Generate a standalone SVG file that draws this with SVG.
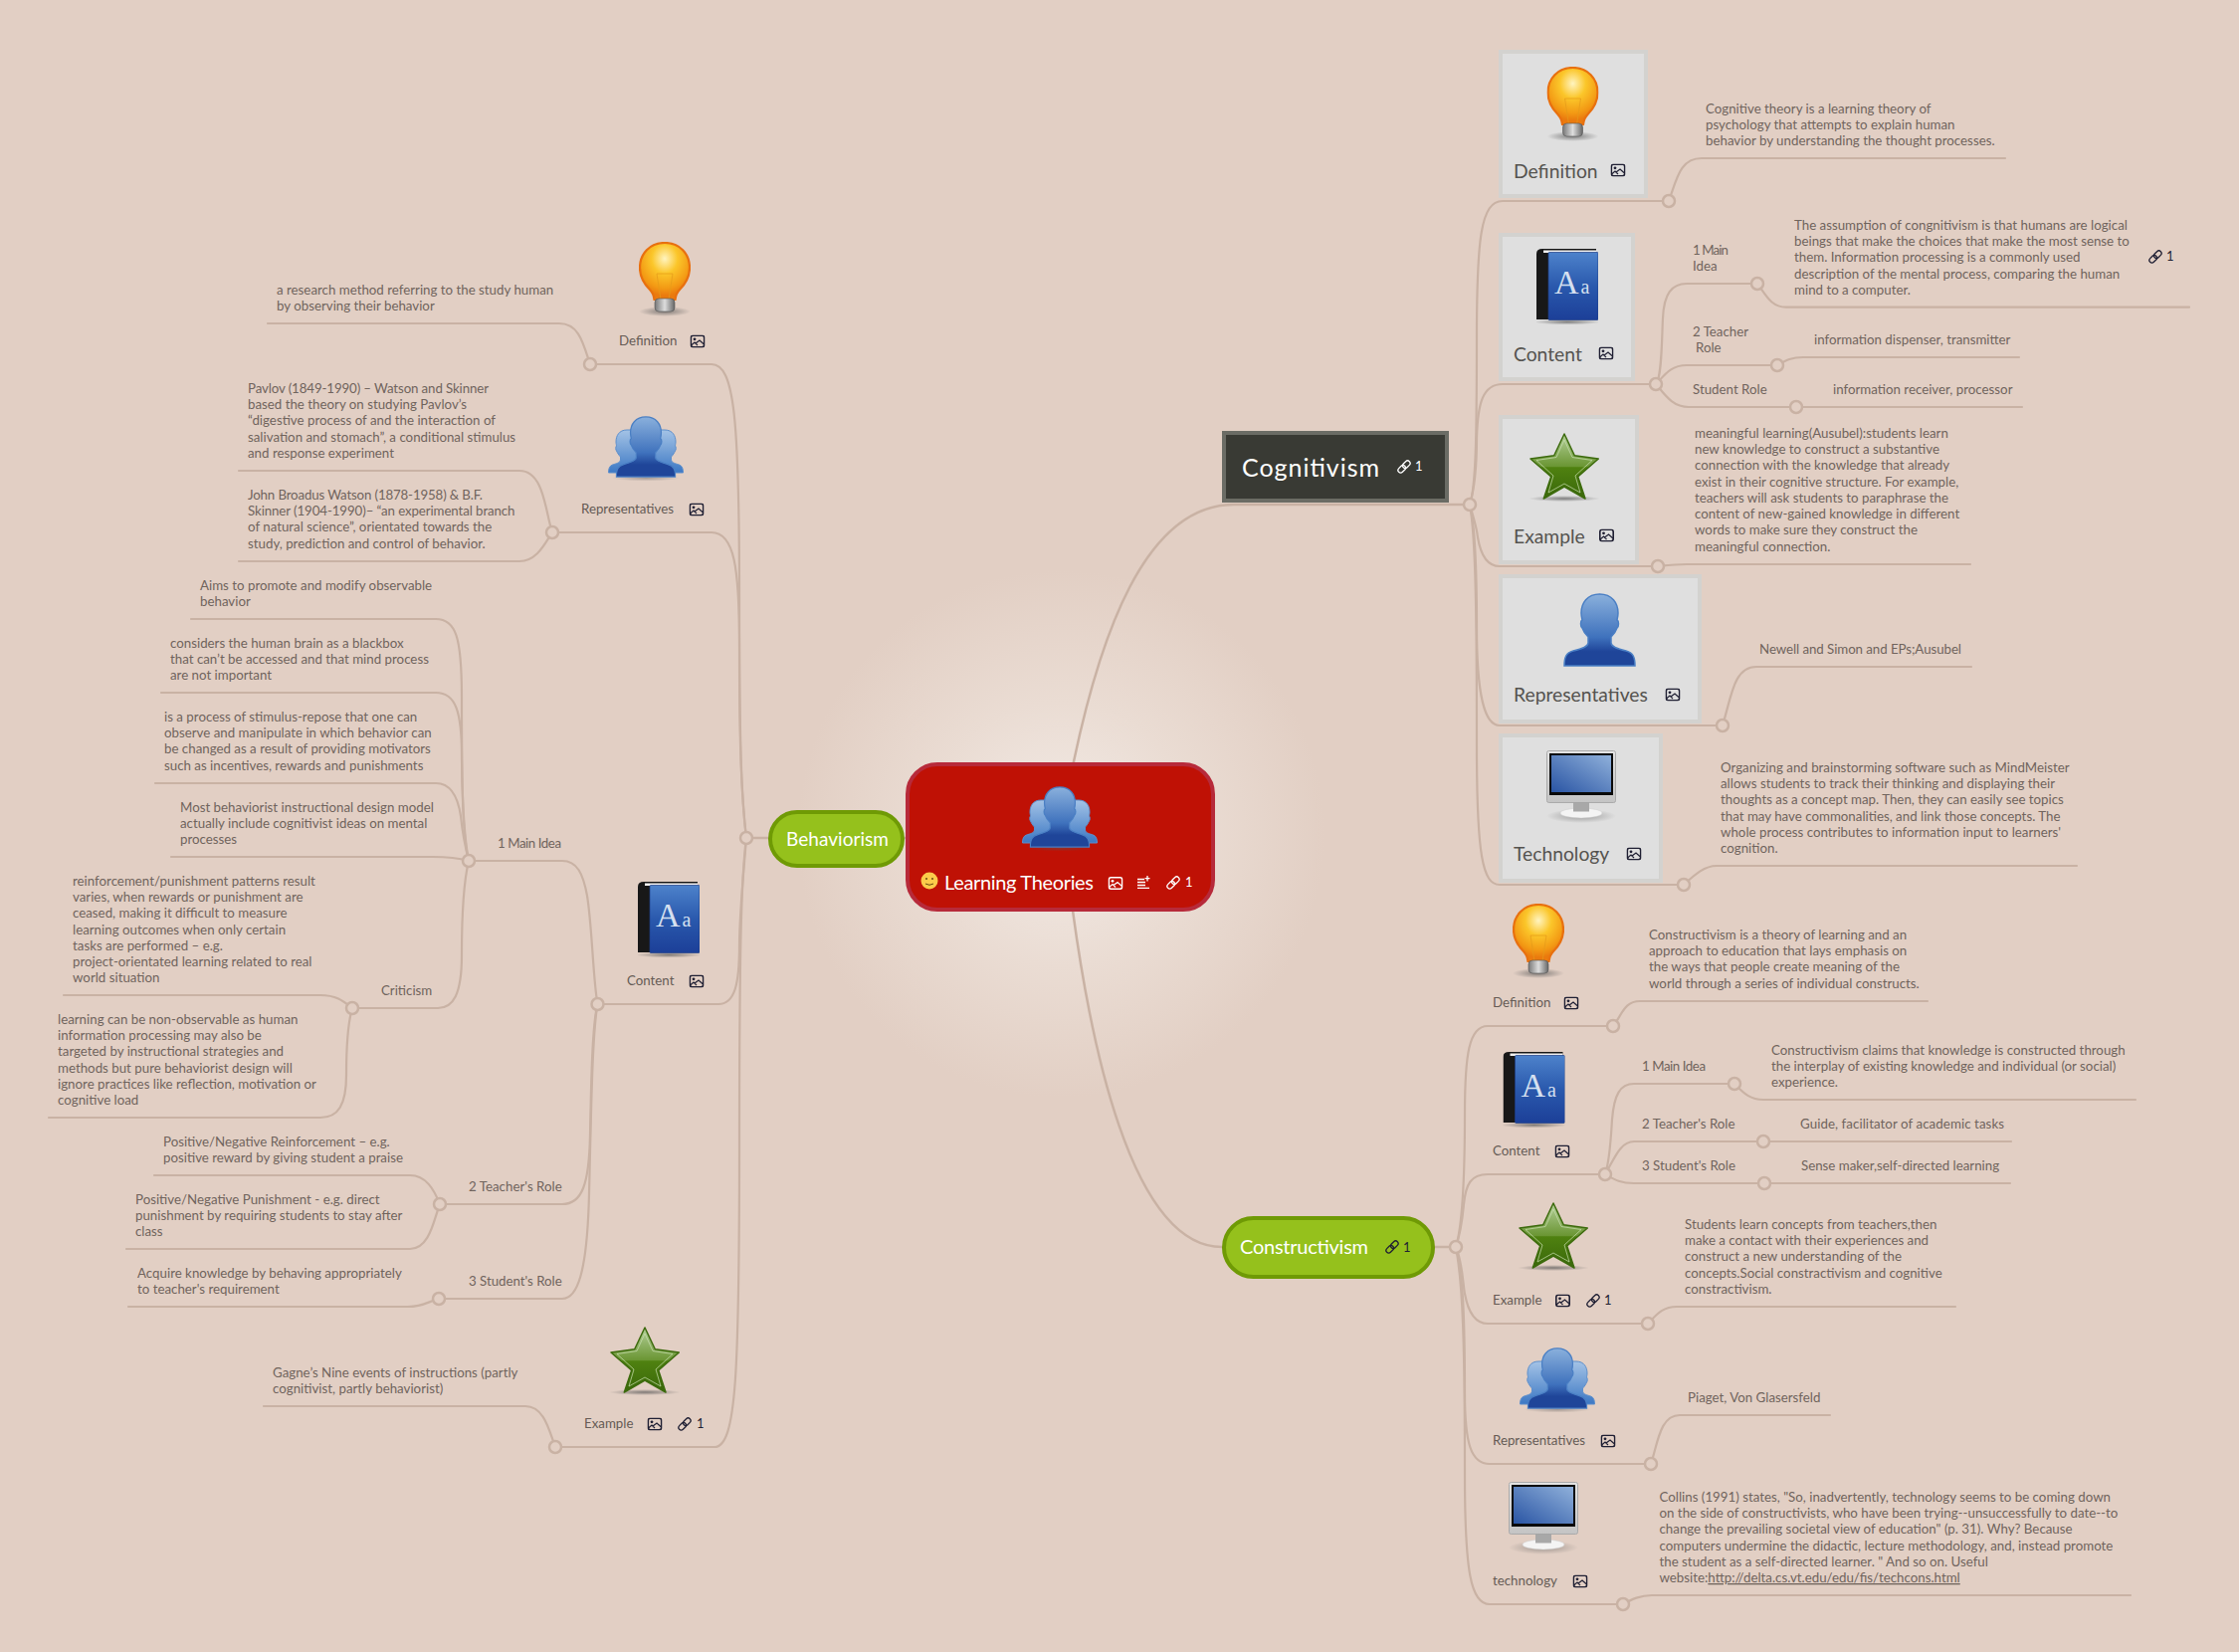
<svg xmlns="http://www.w3.org/2000/svg" xmlns:xlink="http://www.w3.org/1999/xlink" width="2250" height="1660" viewBox="0 0 2250 1660">
<style>
.t{font:13.3px Lato,"Liberation Sans",sans-serif;fill:#70645d;transform:translateY(1px)}
.l{font:13.3px Lato,"Liberation Sans",sans-serif;fill:#655b55;transform:translateY(1px)}
.c{font:19.3px Lato,"Liberation Sans",sans-serif;fill:#55534f;transform:translateY(1.5px)}
.n{font:13px Lato,"Liberation Sans",sans-serif;fill:#1f1f33}
.w{fill:#fff}
.b{transform:translateY(1px)}
.card{fill:#dfdfdf;stroke:#d3d2cf;stroke-width:4}
.ln{fill:none;stroke:#c9b2a4;stroke-width:2.2;stroke-linecap:round}
.main{stroke-width:2.5}
.hub{fill:#e2cfc4;stroke:#c9b2a4;stroke-width:2.5}
.dk{color:#1f1f33}
.wh{color:#fff}
</style>
<defs>
<radialGradient id="glow"><stop offset="0" stop-color="#f3ebe6"/><stop offset=".5" stop-color="#eadcd3"/><stop offset="1" stop-color="#e2cfc4"/></radialGradient>
<radialGradient id="sh"><stop offset="0" stop-color="#555" stop-opacity=".7"/><stop offset="1" stop-color="#555" stop-opacity="0"/></radialGradient>
<radialGradient id="gl" cx=".5" cy=".28" r=".65"><stop offset="0" stop-color="#fff4c0"/><stop offset=".4" stop-color="#fbc62a"/><stop offset=".8" stop-color="#f39a14"/><stop offset="1" stop-color="#ea7a0e"/></radialGradient>
<linearGradient id="base" x1="0" x2="1" y1="0" y2="0"><stop offset="0" stop-color="#777"/><stop offset=".5" stop-color="#ddd"/><stop offset="1" stop-color="#666"/></linearGradient>
<linearGradient id="cov" x1="0" x2="0" y1="0" y2="1"><stop offset="0" stop-color="#4d82cb"/><stop offset=".5" stop-color="#2a59ad"/><stop offset="1" stop-color="#1c3f98"/></linearGradient>
<linearGradient id="per" x1="0" x2="0" y1="0" y2="1"><stop offset="0" stop-color="#8ab0dc"/><stop offset=".6" stop-color="#3f72bd"/><stop offset=".8" stop-color="#1f4599"/><stop offset="1" stop-color="#1f4599"/></linearGradient>
<linearGradient id="per2" x1="0" x2="0" y1="0" y2="1"><stop offset="0" stop-color="#a4c3e6"/><stop offset="1" stop-color="#3c78c4"/></linearGradient>
<linearGradient id="st" x1="0" x2="0" y1="0" y2="1"><stop offset="0" stop-color="#b4d09a"/><stop offset=".5" stop-color="#6b9634"/><stop offset=".52" stop-color="#4f8110"/><stop offset="1" stop-color="#3a680a"/></linearGradient>
<linearGradient id="scr" x1="0" x2="1" y1="1" y2="0"><stop offset="0" stop-color="#2a55a4"/><stop offset="1" stop-color="#8fb0da"/></linearGradient>
<linearGradient id="bez" x1="0" x2="0" y1="0" y2="1"><stop offset="0" stop-color="#e4e4e4"/><stop offset="1" stop-color="#c4c4c4"/></linearGradient>

<symbol id="bulb" viewBox="0 0 52 75">
<ellipse cx="26" cy="70" rx="26" ry="5" fill="url(#sh)"/>
<path d="M26 1C11 1 1 12 1 26c0 10 5 17 10 22 3 3 4 6 4.500 10h21c.5-4 1.500-7 4.500-10 5-5 10-12 10-22C51 12 41 1 26 1Z" fill="url(#gl)" stroke="#e8700f" stroke-width="2.200"/>
<path d="M18 32l4 26M34 32l-4 26M18 32h16" fill="none" stroke="#e49a1a" stroke-width="1" opacity=".7"/>
<rect x="16" y="57" width="20" height="13" rx="4" fill="url(#base)" stroke="#555" stroke-width=".6"/>
</symbol>

<symbol id="book" viewBox="0 0 62 78">
<ellipse cx="31" cy="74.500" rx="34" ry="3" fill="url(#sh)"/>
<path d="M0 6Q0 1 6 1H60V72H0Z" fill="#181818"/>
<rect x="7" y="2.500" width="53" height="2.500" fill="#f2f2f2"/>
<rect x="12" y="4.500" width="50" height="68" rx="1" fill="url(#cov)" stroke="#1d3c85" stroke-width=".7"/>
<text x="18" y="46" font-family="'Liberation Serif',serif" font-size="34" fill="#d6e0f0">A<tspan font-size="20" dx="2">a</tspan></text>
</symbol>

<symbol id="person" viewBox="0 0 73 74">
<path d="M36.500 1C24 1 18 10 18 20c0 2 .5 5 1 7-2 1-2 6 0 8 1 3 3 6 6 9v6c0 4-7 6-15 8C3 60 1 64 1 73H72c0-9-2-13-9-15-8-2-15-4-15-8v-6c3-3 5-6 6-9 2-2 2-7 0-8 .5-2 1-5 1-7C55 10 49 1 36.500 1Z" fill="url(#per)" stroke="#4a7fc4" stroke-width="1.500"/>
</symbol>

<symbol id="people" viewBox="0 0 76 66">
<ellipse cx="38" cy="62.500" rx="34" ry="3" fill="url(#sh)" opacity=".6"/>
<path d="M19 14c-8 0-11 6-11 12 0 2 .5 3 .5 4-1 1-1 4 0 5 1 2 2 4 4 6v3c0 3-5 4-8 5-3 1-4 4-4 8H38V14Z" fill="url(#per2)" stroke="#5d8fcc"/>
<path d="M57 14c8 0 11 6 11 12 0 2-.5 3-.5 4 1 1 1 4 0 5-1 2-2 4-4 6v3c0 3 5 4 8 5 3 1 4 4 4 8H38V14Z" fill="url(#per2)" stroke="#5d8fcc"/>
<use href="#person" x="7.500" y="0" width="61" height="62" preserveAspectRatio="none"/>
</symbol>

<symbol id="star" viewBox="0 0 70 70">
<ellipse cx="35" cy="66" rx="36" ry="3" fill="url(#sh)"/>
<path d="M35 1 45.300 22.700 69.300 26 48.700 44 56 66 35 54 14.300 66 21.700 44 1 26 24.700 22.700Z" fill="url(#st)" stroke="#3c6a0d" stroke-width="1.500" stroke-linejoin="round"/>
<path d="M35 7 43 24.500 63 27.500 46 43 51 60 35 51 19 60 24 43 7 27.500 27 24.500Z" fill="none" stroke="#c9deb0" stroke-width="1" opacity=".7"/>
</symbol>

<symbol id="mon" viewBox="0 0 70 73">
<ellipse cx="35" cy="66" rx="35" ry="7" fill="url(#sh)" opacity=".7"/>
<rect x=".5" y=".5" width="69" height="52" rx="2" fill="url(#bez)" stroke="#aaa"/>
<rect x="3" y="3" width="64" height="42" fill="#0a0a0a"/>
<rect x="5" y="5" width="60" height="37" fill="url(#scr)"/>
<rect x="27" y="52.500" width="16" height="9" fill="#999"/>
<ellipse cx="35" cy="63" rx="21" ry="5" fill="#f4f4f4" stroke="#ccc" stroke-width=".5"/>
<rect x="27" y="52.500" width="16" height="9" fill="#a8a8a8"/>
</symbol>

<symbol id="img" viewBox="0 0 15 13">
<rect x=".8" y=".8" width="13.400" height="11.400" rx="2.200" fill="none" stroke="currentColor" stroke-width="1.600"/>
<circle cx="4.500" cy="4.300" r="1.400" fill="currentColor"/>
<path d="M1 10.500 4.500 7.500 7.500 10.500M5.500 8.500 9.500 5.500 14 9.500" fill="none" stroke="currentColor" stroke-width="1.200"/>
</symbol>

<symbol id="link" viewBox="0 0 14 14">
<g fill="none" stroke="currentColor" stroke-width="1.300" transform="rotate(-45 7 7)">
<rect x="-.5" y="4.400" width="8.500" height="5.200" rx="2.600"/>
<rect x="6" y="4.400" width="8.500" height="5.200" rx="2.600"/>
</g>
</symbol>

<symbol id="list" viewBox="0 0 13 13">
<path d="M0 3.500H7M0 6.500H8M0 9.500H8M0 12.300H12M10 0V5.500M7.500 2.700H12.500" fill="none" stroke="currentColor" stroke-width="1.300"/>
</symbol>
</defs>

<rect width="2250" height="1660" fill="#e2cfc4"/>
<ellipse cx="1066" cy="838" rx="265" ry="265" fill="url(#glow)"/>

<g id="connectors">
<path class="ln main" d="M1078,770C1105,640 1150,507 1240,507L1477,507"/>
<path class="ln main" d="M1078,915C1095,1040 1135,1253 1228,1253L1463,1253"/>
<path class="ln main" d="M750,842L912,842"/>
<path class="ln" d="M750,842C745,800 743,750 743,600C743,420 738,366 715,366L593,366"/>
<path class="ln" d="M750,842C745,800 743,750 743,650C743,570 738,535 715,535L555,535"/>
<path class="ln" d="M750,842C747,880 743,920 743,950C743,990 738,1009 722,1009L600,1009"/>
<path class="ln" d="M750,842C745,880 743,950 743,1150C743,1380 740,1454 718,1454L558,1454"/>
<path class="ln" d="M593,366C586,345 582,325 562,325L269,325"/>
<path class="ln" d="M555,535C548,515 547,473 522,473L240,473"/>
<path class="ln" d="M555,535C548,545 540,564 522,564L240,564"/>
<path class="ln" d="M600.500,1009C596,985 595,930 590,900C586,878 580,865 565,865L471,865"/>
<path class="ln" d="M600.500,1009C595,1030 594,1090 593,1140C592,1190 585,1210 565,1210L442,1210"/>
<path class="ln" d="M600.500,1009C595,1040 594,1120 592,1200C590,1280 580,1305 565,1305L441,1305"/>
<path class="ln" d="M471,865C465,840 464,800 464,700C464,640 458,622 438,622L192,622"/>
<path class="ln" d="M471,865C466,840 464,790 464,760C464,715 458,696 438,696L162,696"/>
<path class="ln" d="M471,865C466,845 464,830 463,820C460,800 452,787 438,787L156,787"/>
<path class="ln" d="M471,865C460,862 450,861 435,861L172,861"/>
<path class="ln" d="M471,865C465,890 464,930 464,960C464,1000 455,1013 440,1013L354,1013"/>
<path class="ln" d="M354,1013C345,1006 338,1000 322,1000L64,1000"/>
<path class="ln" d="M354,1013C349,1030 348,1050 348,1080C348,1110 340,1123 322,1123L49,1123"/>
<path class="ln" d="M442,1210C436,1195 428,1181 412,1181L155,1181"/>
<path class="ln" d="M442,1210C436,1225 432,1255 412,1255L127,1255"/>
<path class="ln" d="M441,1305C430,1308 425,1313 410,1313L129,1313"/>
<path class="ln" d="M558,1454C552,1438 547,1413 528,1413L265,1413"/>
<path class="ln" d="M1477,507C1483,490 1484,440 1484,340C1484,240 1488,202 1510,202L1677,202"/>
<path class="ln" d="M1477,507C1482,490 1484,470 1484,440C1485,405 1490,386 1510,386L1664,386"/>
<path class="ln" d="M1477,507C1482,525 1484,530 1485,540C1488,558 1495,569 1507,569L1666,569"/>
<path class="ln" d="M1477,507C1483,530 1484,580 1484,630C1484,700 1492,729 1507,729L1731,729"/>
<path class="ln" d="M1477,507C1483,540 1484,620 1484,750C1484,860 1490,889 1507,889L1692,889"/>
<path class="ln" d="M1677,202C1685,180 1688,159 1710,159L2015,159"/>
<path class="ln" d="M1664,386C1670,380 1670,340 1671,320C1672,295 1680,285 1695,285L1766,285"/>
<path class="ln" d="M1766,285C1775,297 1780,308.700 1795,308.700L2200,308.700"/>
<path class="ln" d="M1664,386C1672,378 1678,367 1695,367L1786,367"/>
<path class="ln" d="M1786,367C1795,362 1800,359 1812,359L2029,359"/>
<path class="ln" d="M1664,386C1672,395 1680,409 1697,409L2032,409"/>
<path class="ln" d="M1666,569C1675,568 1682,567 1695,567L1980,567"/>
<path class="ln" d="M1731,729C1740,700 1742,670 1765,670L1981,670"/>
<path class="ln" d="M1692,889C1702,880 1712,870 1725,870L2087,870"/>
<path class="ln" d="M1463,1253C1470,1230 1472,1180 1472,1120C1472,1060 1476,1031 1495,1031L1621,1031"/>
<path class="ln" d="M1463,1253C1469,1235 1470,1220 1471,1210C1473,1190 1478,1180 1495,1180L1613,1180"/>
<path class="ln" d="M1463,1253C1470,1270 1470,1290 1472,1300C1476,1322 1484,1330 1495,1330L1656,1330"/>
<path class="ln" d="M1463,1253C1470,1280 1472,1320 1472,1400C1472,1450 1478,1471 1497,1471L1659,1471"/>
<path class="ln" d="M1463,1253C1470,1290 1472,1350 1472,1480C1472,1580 1478,1612 1497,1612L1631,1612"/>
<path class="ln" d="M1621,1031C1630,1020 1632,1006 1648,1006L1937,1006"/>
<path class="ln" d="M1613,1180C1618,1165 1619,1140 1620,1125C1622,1100 1628,1089 1642,1089L1743,1089"/>
<path class="ln" d="M1743,1089C1752,1098 1758,1105 1772,1105L2146,1105"/>
<path class="ln" d="M1613,1180C1622,1165 1628,1147 1642,1147L2021,1147"/>
<path class="ln" d="M1613,1180C1622,1185 1628,1189 1642,1189L2020,1189"/>
<path class="ln" d="M1656,1330C1664,1322 1670,1313 1685,1313L1965,1313"/>
<path class="ln" d="M1659,1471C1666,1450 1668,1422 1688,1422L1839,1422"/>
<path class="ln" d="M1631,1612C1640,1607 1648,1603 1660,1603L2141,1603"/>
<g class="hub">
<circle cx="750" cy="842" r="6"/><circle cx="593" cy="366" r="6"/><circle cx="555" cy="535" r="6"/><circle cx="600.500" cy="1009" r="6"/><circle cx="558" cy="1454" r="6"/><circle cx="471" cy="865" r="6"/><circle cx="354" cy="1013" r="6"/><circle cx="442" cy="1210" r="6"/><circle cx="441" cy="1305" r="6"/>
<circle cx="1477" cy="507" r="6"/><circle cx="1677" cy="202" r="6"/><circle cx="1664" cy="386" r="6"/><circle cx="1666" cy="569" r="6"/><circle cx="1731" cy="729" r="6"/><circle cx="1692" cy="889" r="6"/><circle cx="1766" cy="285" r="6"/><circle cx="1786" cy="367" r="6"/><circle cx="1805" cy="409" r="6"/>
<circle cx="1463" cy="1253" r="6"/><circle cx="1621" cy="1031" r="6"/><circle cx="1613" cy="1180" r="6"/><circle cx="1656" cy="1330" r="6"/><circle cx="1659" cy="1471" r="6"/><circle cx="1631" cy="1612" r="6"/><circle cx="1743" cy="1089" r="6"/><circle cx="1772" cy="1147" r="6"/><circle cx="1773" cy="1189" r="6"/>
</g>
</g>

<g id="root">
<rect x="912" y="768" width="307" height="146" rx="30" fill="#bf1105" stroke="#b72a3a" stroke-width="4"/>
<use href="#people" x="1027" y="790" width="76" height="66"/>
<circle cx="934" cy="885" r="8.500" fill="#fbcb4a"/><circle cx="931" cy="883" r="1" fill="#6b4a10"/><circle cx="937" cy="883" r="1" fill="#6b4a10"/><path d="M930 888q4 2.500 8 0" fill="none" stroke="#6b4a10" stroke-width="1"/>
<text class="w b" x="949" y="893" font-family="Lato,'Liberation Sans',sans-serif" font-size="20" textLength="150">Learning Theories</text>
<use class="wh" href="#img" x="1113.500" y="881" width="15" height="13"/>
<use class="wh" href="#list" x="1143" y="880" width="13" height="13"/>
<use class="wh" href="#link" x="1172" y="880" width="14" height="14"/>
<text class="n w" x="1191" y="891">1</text>
</g>

<g id="behaviorism">
<rect x="774" y="816" width="133" height="54" rx="27" fill="#95c11c" stroke="#6f9a05" stroke-width="4"/>
<text class="w b" x="790" y="849" font-family="Lato,'Liberation Sans',sans-serif" font-size="19" textLength="103">Behaviorism</text>
</g>

<g id="cognitivism">
<rect x="1230" y="435" width="224" height="68" fill="#393a34" stroke="#6b6c65" stroke-width="4"/>
<text class="w b" x="1248" y="478" font-family="Lato,'Liberation Sans',sans-serif" font-size="25" textLength="138">Cognitivism</text>
<use class="wh" href="#link" x="1404" y="462" width="14" height="14"/>
<text class="n w" x="1422" y="473">1</text>
</g>

<g id="constructivism">
<rect x="1230" y="1224" width="210" height="59" rx="29.500" fill="#95c11c" stroke="#6f9a05" stroke-width="4"/>
<text class="w b" x="1246" y="1259" font-family="Lato,'Liberation Sans',sans-serif" font-size="20" textLength="129">Constructivism</text>
<use class="dk" href="#link" x="1392" y="1246" width="14" height="14"/>
<text class="n" x="1410" y="1258">1</text>
</g>

<g id="cog-definition">
<rect class="card" x="1508" y="52" width="146" height="145"/>
<use href="#bulb" x="1554.500" y="67" width="52" height="75"/>
<text class="c" x="1521" y="177">Definition</text>
<use class="dk" href="#img" x="1618.500" y="164.500" width="15" height="13"/>
</g>
<g id="cog-definition-text">
<text class="t" x="1714" y="113">Cognitive theory is a learning theory of</text>
<text class="t" x="1714" y="129">psychology that attempts to explain human</text>
<text class="t" x="1714" y="145">behavior by understanding the thought processes.</text>
</g>
<g id="cog-content">
<rect class="card" x="1508" y="236" width="133" height="145"/>
<use href="#book" x="1544" y="249" width="62" height="78"/>
<text class="c" x="1521" y="361">Content</text>
<use class="dk" href="#img" x="1606.500" y="348.500" width="15" height="13"/>
</g>
<g id="cog-main-idea">
<text class="t" x="1701" y="255" textLength="36">1 Main</text>
<text class="t" x="1701" y="271">Idea</text>
</g>
<g id="cog-main-idea-text">
<text class="t" x="1803" y="230">The assumption of congnitivism is that humans are logical</text>
<text class="t" x="1803" y="246">beings that make the choices that make the most sense to</text>
<text class="t" x="1803" y="262">them. Information processing is a commonly used</text>
<text class="t" x="1803" y="279">description of the mental process, comparing the human</text>
<text class="t" x="1803" y="295">mind to a computer.</text>
<use class="dk" href="#link" x="2159" y="251" width="14" height="14"/>
<text class="n" x="2177" y="262">1</text>
</g>
<g id="cog-teacher">
<text class="t" x="1701" y="337" textLength="56">2 Teacher</text>
<text class="t" x="1704" y="353">Role</text>
<text class="t" x="1823" y="345">information dispenser, transmitter</text>
</g>
<g id="cog-student">
<text class="t" x="1701" y="395">Student Role</text>
<text class="t" x="1842" y="395">information receiver, processor</text>
</g>
<g id="cog-example">
<rect class="card" x="1508" y="419" width="137" height="146"/>
<use href="#star" x="1537" y="435" width="70" height="70"/>
<text class="c" x="1521" y="544">Example</text>
<use class="dk" href="#img" x="1607" y="531.500" width="15" height="13"/>
</g>
<g id="cog-example-text">
<text class="t" x="1703" y="439">meaningful learning(Ausubel):students learn</text>
<text class="t" x="1703" y="455">new knowledge to construct a substantive</text>
<text class="t" x="1703" y="471">connection with the knowledge that already</text>
<text class="t" x="1703" y="488">exist in their cognitive structure. For example,</text>
<text class="t" x="1703" y="504">teachers will ask students to paraphrase the</text>
<text class="t" x="1703" y="520">content of new-gained knowledge in different</text>
<text class="t" x="1703" y="536">words to make sure they construct the</text>
<text class="t" x="1703" y="553">meaningful connection.</text>
</g>
<g id="cog-representatives">
<rect class="card" x="1508" y="579" width="200" height="146"/>
<use href="#person" x="1571" y="596" width="73" height="74"/>
<text class="c" x="1521" y="703">Representatives</text>
<use class="dk" href="#img" x="1673.500" y="691.500" width="15" height="13"/>
<text class="t" x="1768" y="656" textLength="203">Newell and Simon and EPs;Ausubel</text>
</g>
<g id="cog-technology">
<rect class="card" x="1508" y="739" width="161" height="146"/>
<use href="#mon" x="1554" y="754" width="70" height="73"/>
<text class="c" x="1521" y="863">Technology</text>
<use class="dk" href="#img" x="1634.500" y="851.500" width="15" height="13"/>
</g>
<g id="cog-technology-text">
<text class="t" x="1729" y="775">Organizing and brainstorming software such as MindMeister</text>
<text class="t" x="1729" y="791">allows students to track their thinking and displaying their</text>
<text class="t" x="1729" y="807">thoughts as a concept map. Then, they can easily see topics</text>
<text class="t" x="1729" y="824">that may have commonalities, and link those concepts. The</text>
<text class="t" x="1729" y="840">whole process contributes to information input to learners'</text>
<text class="t" x="1729" y="856">cognition.</text>
</g>

<g id="con-definition">
<use href="#bulb" x="1520" y="908" width="52" height="75"/>
<text class="l" x="1500" y="1011">Definition</text>
<use class="dk" href="#img" x="1571.500" y="1001.500" width="15" height="13"/>
<text class="t" x="1657" y="943">Constructivism is a theory of learning and an</text>
<text class="t" x="1657" y="959">approach to education that lays emphasis on</text>
<text class="t" x="1657" y="975">the ways that people create meaning of the</text>
<text class="t" x="1657" y="992">world through a series of individual constructs.</text>
</g>
<g id="con-content">
<use href="#book" x="1510.500" y="1056" width="62" height="78"/>
<text class="l" x="1500" y="1160">Content</text>
<use class="dk" href="#img" x="1562.500" y="1150.500" width="15" height="13"/>
</g>
<g id="con-main-idea">
<text class="t" x="1650" y="1075" textLength="64">1 Main Idea</text>
<text class="t" x="1780" y="1059">Constructivism claims that knowledge is constructed through</text>
<text class="t" x="1780" y="1075">the interplay of existing knowledge and individual (or social)</text>
<text class="t" x="1780" y="1091">experience.</text>
</g>
<g id="con-teacher">
<text class="t" x="1650" y="1133" textLength="93.500">2 Teacher's Role</text>
<text class="t" x="1809" y="1133" textLength="205">Guide, facilitator of academic tasks</text>
</g>
<g id="con-student">
<text class="t" x="1650" y="1175" textLength="94">3 Student's Role</text>
<text class="t" x="1810" y="1175">Sense maker,self-directed learning</text>
</g>
<g id="con-example">
<use href="#star" x="1526" y="1208" width="70" height="70"/>
<text class="l" x="1500" y="1310">Example</text>
<use class="dk" href="#img" x="1563" y="1300.500" width="15" height="13"/>
<use class="dk" href="#link" x="1594" y="1300" width="14" height="14"/>
<text class="n" x="1612" y="1311">1</text>
<text class="t" x="1693" y="1234">Students learn concepts from teachers,then</text>
<text class="t" x="1693" y="1250">make a contact with their experiences and</text>
<text class="t" x="1693" y="1266">construct a new understanding of the</text>
<text class="t" x="1693" y="1283">concepts.Social constractivism and cognitive</text>
<text class="t" x="1693" y="1299">constractivism.</text>
</g>
<g id="con-representatives">
<use href="#people" x="1527" y="1354" width="76" height="66"/>
<text class="l" x="1500" y="1451">Representatives</text>
<use class="dk" href="#img" x="1608.500" y="1441.500" width="15" height="13"/>
<text class="t" x="1696" y="1408">Piaget, Von Glasersfeld</text>
</g>
<g id="con-technology">
<use href="#mon" x="1516" y="1489" width="70" height="73"/>
<text class="l" x="1500" y="1592">technology</text>
<use class="dk" href="#img" x="1580.500" y="1582.500" width="15" height="13"/>
<text class="t" x="1667.500" y="1508">Collins (1991) states, "So, inadvertently, technology seems to be coming down</text>
<text class="t" x="1667.500" y="1524">on the side of constructivists, who have been trying--unsuccessfully to date--to</text>
<text class="t" x="1667.500" y="1540">change the prevailing societal view of education" (p. 31). Why? Because</text>
<text class="t" x="1667.500" y="1557">computers undermine the didactic, lecture methodology, and, instead promote</text>
<text class="t" x="1667.500" y="1573">the student as a self-directed learner. " And so on. Useful</text>
<text class="t" x="1667.500" y="1589">website:<tspan text-decoration="underline">http://delta.cs.vt.edu/edu/fis/techcons.html</tspan></text>
</g>

<g id="beh-definition">
<use href="#bulb" x="642" y="243" width="52" height="75"/>
<text class="l" x="622" y="346">Definition</text>
<use class="dk" href="#img" x="693.500" y="336.500" width="15" height="13"/>
<text class="t" x="278" y="295">a research method referring to the study human</text>
<text class="t" x="278" y="311">by observing their behavior</text>
</g>
<g id="beh-representatives">
<use href="#people" x="611" y="418" width="76" height="66"/>
<text class="l" x="584" y="515">Representatives</text>
<use class="dk" href="#img" x="692.500" y="505.500" width="15" height="13"/>
<text class="t" x="249" y="394" textLength="242">Pavlov (1849-1990) – Watson and Skinner</text>
<text class="t" x="249" y="410">based the theory on studying Pavlov’s</text>
<text class="t" x="249" y="426">“digestive process of and the interaction of</text>
<text class="t" x="249" y="443">salivation and stomach”, a conditional stimulus</text>
<text class="t" x="249" y="459">and response experiment</text>
<text class="t" x="249" y="501" textLength="236">John Broadus Watson (1878-1958) &amp; B.F.</text>
<text class="t" x="249" y="517" textLength="268.500">Skinner (1904-1990)– “an experimental branch</text>
<text class="t" x="249" y="533">of natural science”, orientated towards the</text>
<text class="t" x="249" y="550">study, prediction and control of behavior.</text>
</g>
<g id="beh-content">
<use href="#book" x="641" y="885" width="62" height="78"/>
<text class="l" x="630" y="989">Content</text>
<use class="dk" href="#img" x="692.500" y="979.500" width="15" height="13"/>
</g>
<g id="beh-main-idea">
<text class="t" x="500" y="851" textLength="64">1 Main Idea</text>
<text class="t" x="201" y="592">Aims to promote and modify observable</text>
<text class="t" x="201" y="608">behavior</text>
<text class="t" x="171" y="650">considers the human brain as a blackbox</text>
<text class="t" x="171" y="666">that can’t be accessed and that mind process</text>
<text class="t" x="171" y="682">are not important</text>
<text class="t" x="165" y="724">is a process of stimulus-repose that one can</text>
<text class="t" x="165" y="740">observe and manipulate in which behavior can</text>
<text class="t" x="165" y="756">be changed as a result of providing motivators</text>
<text class="t" x="165" y="773">such as incentives, rewards and punishments</text>
<text class="t" x="181" y="815">Most behaviorist instructional design model</text>
<text class="t" x="181" y="831">actually include cognitivist ideas on mental</text>
<text class="t" x="181" y="847">processes</text>
</g>
<g id="beh-criticism">
<text class="t" x="383" y="999">Criticism</text>
<text class="t" x="73" y="889">reinforcement/punishment patterns result</text>
<text class="t" x="73" y="905">varies, when rewards or punishment are</text>
<text class="t" x="73" y="921">ceased, making it difficult to measure</text>
<text class="t" x="73" y="938">learning outcomes when only certain</text>
<text class="t" x="73" y="954">tasks are performed – e.g.</text>
<text class="t" x="73" y="970">project-orientated learning related to real</text>
<text class="t" x="73" y="986">world situation</text>
<text class="t" x="58" y="1028">learning can be non-observable as human</text>
<text class="t" x="58" y="1044">information processing may also be</text>
<text class="t" x="58" y="1060">targeted by instructional strategies and</text>
<text class="t" x="58" y="1077">methods but pure behaviorist design will</text>
<text class="t" x="58" y="1093">ignore practices like reflection, motivation or</text>
<text class="t" x="58" y="1109">cognitive load</text>
</g>
<g id="beh-teacher">
<text class="t" x="471" y="1196" textLength="93.700">2 Teacher's Role</text>
<text class="t" x="164" y="1151">Positive/Negative Reinforcement – e.g.</text>
<text class="t" x="164" y="1167">positive reward by giving student a praise</text>
<text class="t" x="136" y="1209">Positive/Negative Punishment - e.g. direct</text>
<text class="t" x="136" y="1225">punishment by requiring students to stay after</text>
<text class="t" x="136" y="1241">class</text>
</g>
<g id="beh-student">
<text class="t" x="471" y="1291" textLength="93.700">3 Student's Role</text>
<text class="t" x="138" y="1283">Acquire knowledge by behaving appropriately</text>
<text class="t" x="138" y="1299">to teacher's requirement</text>
</g>
<g id="beh-example">
<use href="#star" x="613" y="1333" width="70" height="70"/>
<text class="l" x="587" y="1434">Example</text>
<use class="dk" href="#img" x="650.500" y="1424.500" width="15" height="13"/>
<use class="dk" href="#link" x="681" y="1424" width="14" height="14"/>
<text class="n" x="700" y="1435">1</text>
<text class="t" x="274" y="1383">Gagne’s Nine events of instructions (partly</text>
<text class="t" x="274" y="1399">cognitivist, partly behaviorist)</text>
</g>
</svg>
